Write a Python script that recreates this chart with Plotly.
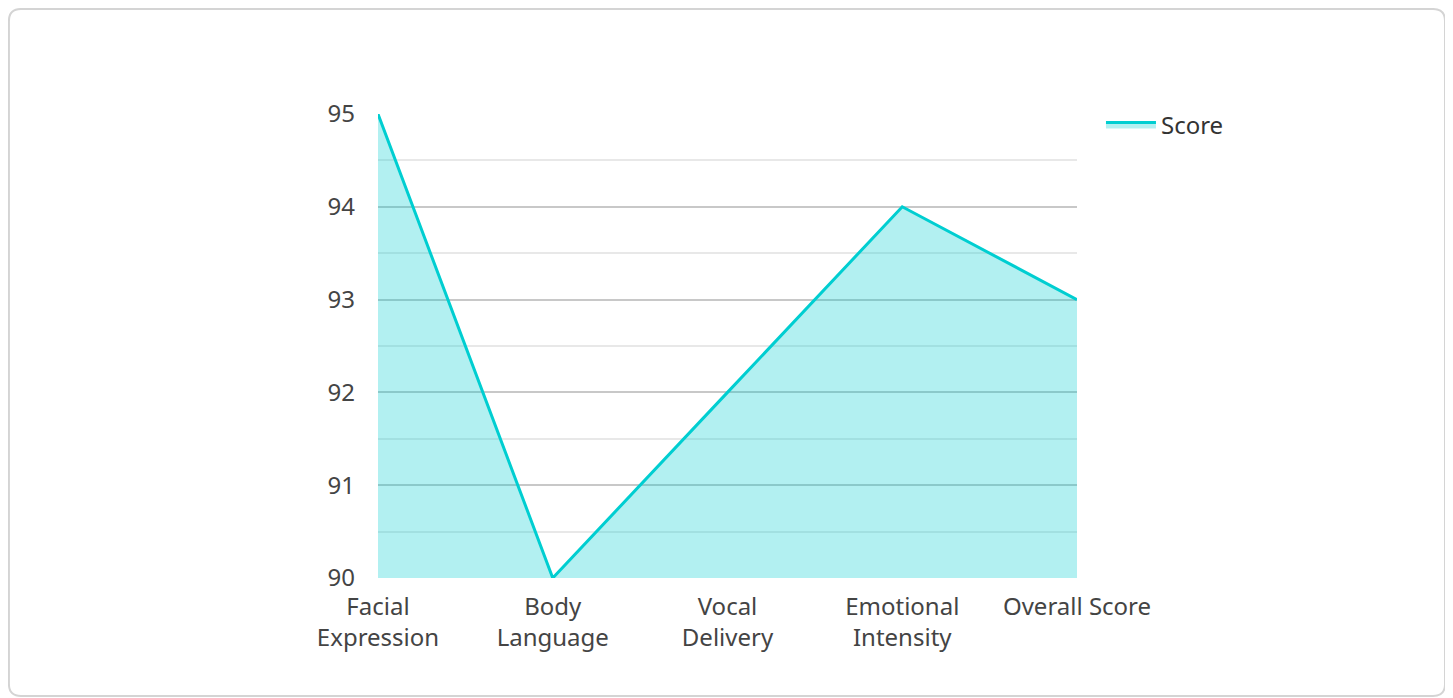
import plotly.graph_objects as go

categories = ["Facial<br>Expression", "Body<br>Language", "Vocal<br>Delivery", "Emotional<br>Intensity", "Overall Score"]
scores = [95, 90, 92, 94, 93]
y_ticks = [90, 91, 92, 93, 94, 95]
series_name = "Score"

x_idx = list(range(len(categories)))

fig = go.Figure()
fig.add_trace(go.Scatter(
    x=x_idx, y=scores, name=series_name, mode="lines",
    line=dict(color="#00CED1", width=3),
    fill="tozeroy", fillcolor="rgba(0,206,209,0.30)",
    showlegend=True,
))

FONT = "Noto Sans, Open Sans, sans-serif"

# border box in paper coords (plot area ~ 699 x 464 px)
x0, x1, y0, y1 = -0.528, 1.5265, -0.2543, 1.2263
rx, ry = 0.0172, 0.0259
border = (f"M {x0+rx},{y1} L {x1-rx},{y1} Q {x1},{y1} {x1},{y1-ry} "
          f"L {x1},{y0+ry} Q {x1},{y0} {x1-rx},{y0} L {x0+rx},{y0} "
          f"Q {x0},{y0} {x0},{y0+ry} L {x0},{y1-ry} Q {x0},{y1} {x0+rx},{y1} Z")

fig.update_layout(
    width=1453, height=698,
    margin=dict(l=370, r=384, t=106, b=128),
    paper_bgcolor="white", plot_bgcolor="white",
    font=dict(family=FONT, size=24, color="#444444"),
    showlegend=True,
    legend=dict(x=1.0343, xanchor="left", y=1.025, yanchor="top",
                font=dict(size=24, color="#333333"), bgcolor="rgba(0,0,0,0)",
                itemwidth=50),
    xaxis=dict(range=[0, len(categories) - 1], tickvals=x_idx, ticktext=categories,
               showgrid=False, zeroline=False, showline=False, ticks="",
               ticklabelstandoff=12),
    yaxis=dict(range=[y_ticks[0], y_ticks[-1]], tickvals=y_ticks,
               showgrid=True, gridcolor="#c8c8c8", gridwidth=1.5,
               zeroline=False, showline=False, ticks="",
               ticklabelstandoff=22,
               minor=dict(dtick=0.5, showgrid=True, gridcolor="#e8e8e8", gridwidth=1.5)),
    shapes=[dict(type="path", xref="paper", yref="paper", path=border,
                 line=dict(color="#d4d4d4", width=2), fillcolor="rgba(0,0,0,0)", layer="below")],
)

fig.write_html("out.html")
